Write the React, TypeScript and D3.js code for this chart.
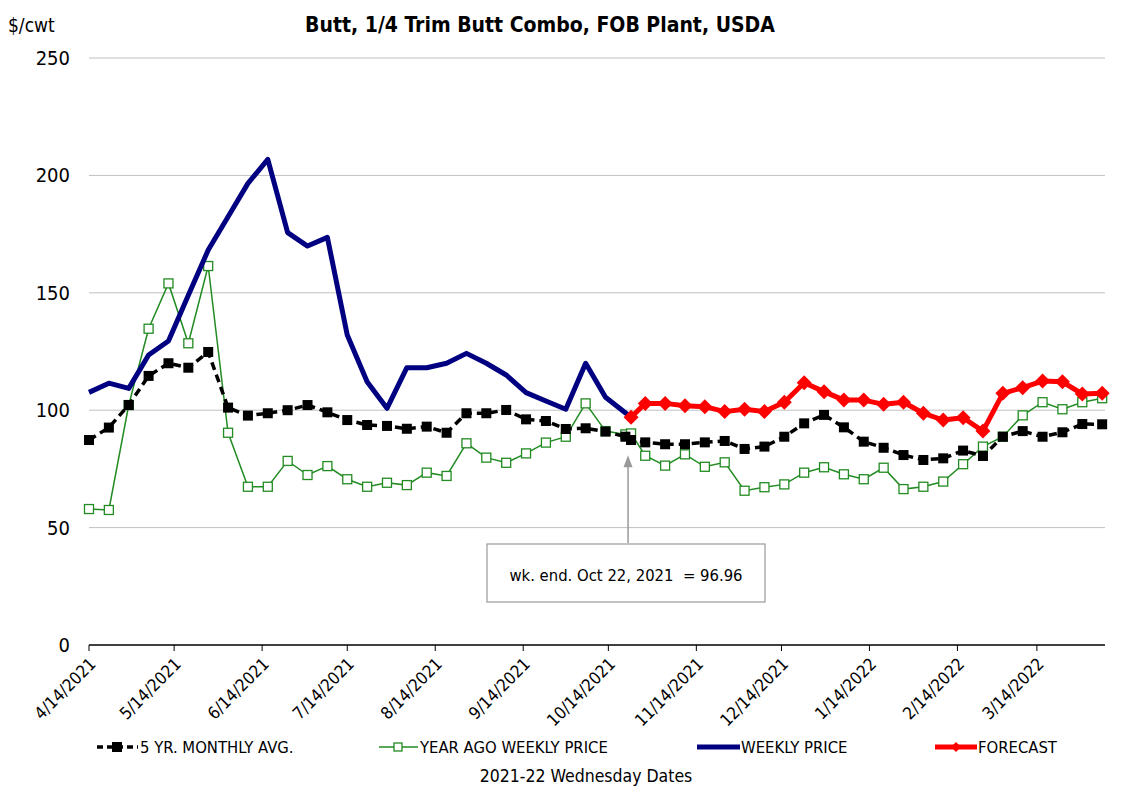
import React from "react";
import * as d3 from "d3";

// Wednesday dates (plus the Friday 10/22/2021 week-ending point)
const dates: string[] = [
  "2021-04-14", "2021-04-21", "2021-04-28", "2021-05-05", "2021-05-12", "2021-05-19",
  "2021-05-26", "2021-06-02", "2021-06-09", "2021-06-16", "2021-06-23", "2021-06-30",
  "2021-07-07", "2021-07-14", "2021-07-21", "2021-07-28", "2021-08-04", "2021-08-11",
  "2021-08-18", "2021-08-25", "2021-09-01", "2021-09-08", "2021-09-15", "2021-09-22",
  "2021-09-29", "2021-10-06", "2021-10-13", "2021-10-20", "2021-10-22", "2021-10-27",
  "2021-11-03", "2021-11-10", "2021-11-17", "2021-11-24", "2021-12-01", "2021-12-08",
  "2021-12-15", "2021-12-22", "2021-12-29", "2022-01-05", "2022-01-12", "2022-01-19",
  "2022-01-26", "2022-02-02", "2022-02-09", "2022-02-16", "2022-02-23", "2022-03-02",
  "2022-03-09", "2022-03-16", "2022-03-23", "2022-03-30", "2022-04-06",
];

const fiveYearAvg: (number | null)[] = [
  87.3, 92.6, 102.2, 114.6, 120, 118.1, 124.8, 101.1, 97.7, 98.7, 100, 102.2,
  99.1, 95.8, 93.7, 93.3, 92.1, 93, 90.4, 98.7, 98.7, 100.1, 96.1, 95.4,
  92, 92.3, 90.9, 88.7, 87.3, 86.3, 85.5, 85.5, 86.3, 86.9, 83.5, 84.5,
  88.7, 94.4, 98, 92.7, 86.6, 84, 80.9, 78.8, 79.5, 82.8, 80.5, 88.7,
  91.1, 88.7, 90.6, 94.1, 94,
];

const yearAgoPrice: (number | null)[] = [
  57.9, 57.5, 102.2, 134.7, 154, 128.5, 161.4, 90.4, 67.4, 67.4, 78.4, 72.4,
  76.2, 70.6, 67.4, 69.1, 68.1, 73.4, 72, 85.9, 79.8, 77.6, 81.6, 86.2,
  88.7, 102.9, 91.1, 89.7, 90.1, 80.6, 76.4, 81.2, 75.9, 77.8, 65.7, 67.2,
  68.4, 73.4, 75.7, 72.7, 70.6, 75.5, 66.4, 67.4, 69.6, 77, 84.5, 88.7,
  97.8, 103.4, 100.4, 103.4, 105.1,
];

const weeklyPrice: (number | null)[] = [
  107.6, 111.5, 109.3, 123.5, 129.5, 149, 168.2, 182.4, 196.6, 206.8, 175.6, 169.9,
  173.6, 132, 112.1, 100.8, 118.1, 118.1, 120, 124.2, 120, 115, 107.5, 103.9,
  100.4, 120, 105.5, null, 96.96, null, null, null, null, null, null, null,
  null, null, null, null, null, null, null, null, null, null, null, null,
  null, null, null, null, null,
];

const forecast: (number | null)[] = [
  null, null, null, null, null, null, null, null, null, null, null, null,
  null, null, null, null, null, null, null, null, null, null, null, null,
  null, null, null, null, 96.96, 102.9, 102.9, 101.9, 101.5, 99.4, 100.4, 99.4,
  103.4, 111.7, 107.9, 104.3, 104.3, 102.5, 103.4, 98.7, 95.8, 96.8, 91.1, 107.2,
  109.6, 112.4, 112.1, 106.9, 107.2,
];

const tickDates: string[] = [
  "2021-04-14", "2021-05-14", "2021-06-14", "2021-07-14", "2021-08-14", "2021-09-14",
  "2021-10-14", "2021-11-14", "2021-12-14", "2022-01-14", "2022-02-14", "2022-03-14",
];
const yTicks: number[] = [0, 50, 100, 150, 200, 250];

const calloutDate = "2021-10-22";
const calloutValue = 96.96;

const FONT = "Tahoma, 'DejaVu Sans Condensed', 'DejaVu Sans', Verdana, sans-serif";

const parse = d3.timeParse("%Y-%m-%d");
const fmtTick = d3.timeFormat("%-m/%-d/%Y");

type Pt = { d: Date; v: number };
const toPts = (vals: (number | null)[]): Pt[] =>
  vals
    .map((v, i) => ({ d: parse(dates[i]) as Date, v }))
    .filter((p): p is Pt => p.v !== null);

export default function App() {
  const left = 89, right = 1105, top = 58, bottom = 645;
  const x = d3
    .scaleTime()
    .domain([parse("2021-04-14") as Date, parse("2022-04-07") as Date])
    .range([left, right]);
  const y = d3.scaleLinear().domain([0, 250]).range([bottom, top]);

  const line = d3
    .line<Pt>()
    .x((p) => x(p.d))
    .y((p) => y(p.v));

  const avgPts = toPts(fiveYearAvg);
  const agoPts = toPts(yearAgoPrice);
  const weekPts = toPts(weeklyPrice);
  const fcPts = toPts(forecast);

  const green = "#228b22";
  const navy = "#000080";
  const red = "#ff0000";

  const diamond = (cx: number, cy: number, r: number) =>
    `M${cx},${cy - r}L${cx + r},${cy}L${cx},${cy + r}L${cx - r},${cy}Z`;

  const ax = x(parse(calloutDate) as Date);
  const ay = y(calloutValue);

  return (
    <svg
      width={1121}
      height={798}
      style={{ position: "absolute", left: 0, top: 0, background: "#fff" }}
      fontFamily={FONT}
    >
      <rect x={0} y={0} width={1121} height={798} fill="#fff" />
      {/* title and unit */}
      <text x={540} y={32} textAnchor="middle" fontSize={21} fontWeight="bold" fill="#000">
        Butt, 1/4 Trim Butt Combo, FOB Plant, USDA
      </text>
      <text x={8} y={32} fontSize={19} fill="#000">$/cwt</text>

      {/* gridlines and y labels */}
      {yTicks.map((t) => (
        <g key={t}>
          {t > 0 && (
            <line x1={left} x2={right} y1={y(t)} y2={y(t)} stroke="#c0c0c0" strokeWidth={1} />
          )}
          <text x={70} y={y(t) + 7} textAnchor="end" fontSize={20} fill="#000">
            {t}
          </text>
        </g>
      ))}

      {/* x axis */}
      <line x1={left} x2={right} y1={bottom} y2={bottom} stroke="#000" strokeWidth={1.5} />
      {tickDates.map((s) => {
        const tx = x(parse(s) as Date);
        return (
          <g key={s}>
            <line x1={tx} x2={tx} y1={bottom} y2={bottom + 6} stroke="#000" strokeWidth={1} />
            <text
              transform={`translate(${tx + 8},${bottom + 20}) rotate(-45)`}
              textAnchor="end"
              fontSize={17}
              fill="#000"
            >
              {fmtTick(parse(s) as Date)}
            </text>
          </g>
        );
      })}

      {/* year-ago weekly price */}
      <path d={line(agoPts) ?? ""} fill="none" stroke={green} strokeWidth={1.5} />
      {agoPts.map((p, i) => (
        <rect
          key={i}
          x={x(p.d) - 4.5}
          y={y(p.v) - 4.5}
          width={9}
          height={9}
          fill="#fff"
          stroke={green}
          strokeWidth={1.3}
        />
      ))}

      {/* 5-year monthly average */}
      <path
        d={line(avgPts) ?? ""}
        fill="none"
        stroke="#000"
        strokeWidth={3.5}
        strokeDasharray="8,5"
      />
      {avgPts.map((p, i) => (
        <rect key={i} x={x(p.d) - 5} y={y(p.v) - 5} width={10} height={10} fill="#000" />
      ))}

      {/* weekly price */}
      <path
        d={line(weekPts) ?? ""}
        fill="none"
        stroke={navy}
        strokeWidth={5}
        strokeLinejoin="round"
      />

      {/* forecast */}
      <path
        d={line(fcPts) ?? ""}
        fill="none"
        stroke={red}
        strokeWidth={5}
        strokeLinejoin="round"
      />
      {fcPts.map((p, i) => (
        <path key={i} d={diamond(x(p.d), y(p.v), 7.5)} fill={red} />
      ))}

      {/* callout */}
      <line x1={ax - 3} x2={ax - 3} y1={543} y2={ay + 45} stroke="#999" strokeWidth={1.5} />
      <path d={`M${ax - 3},${ay + 38}L${ax - 7.5},${ay + 50}L${ax + 1.5},${ay + 50}Z`} fill="#999" />
      <rect x={487} y={544} width={278} height={58} fill="#fff" stroke="#999" strokeWidth={1.2} />
      <text x={626} y={581} textAnchor="middle" fontSize={16.5} fill="#000" style={{ whiteSpace: "pre" }}>
        {`wk. end. Oct 22, 2021  = ${calloutValue.toFixed(2)}`}
      </text>

      {/* legend */}
      <g fontSize={16.5} fill="#000">
        <line x1={97} x2={138} y1={747} y2={747} stroke="#000" strokeWidth={3.5} strokeDasharray="6,4" />
        <rect x={112} y={742} width={10} height={10} fill="#000" />
        <text x={140} y={753}>5 YR. MONTHLY AVG.</text>

        <line x1={379} x2={418} y1={747} y2={747} stroke={green} strokeWidth={1.5} />
        <rect x={394} y={743} width={8} height={8} fill="#fff" stroke={green} strokeWidth={1.3} />
        <text x={420} y={753}>YEAR AGO WEEKLY PRICE</text>

        <line x1={697} x2={740} y1={747} y2={747} stroke={navy} strokeWidth={5} />
        <text x={741} y={753}>WEEKLY PRICE</text>

        <line x1={935} x2={977} y1={747} y2={747} stroke={red} strokeWidth={5} />
        <path d={diamond(956, 747, 5)} fill={red} />
        <text x={978} y={753}>FORECAST</text>
      </g>

      <text x={586} y={782} textAnchor="middle" fontSize={17.5} fill="#000">
        2021-22 Wednesday Dates
      </text>
    </svg>
  );
}
